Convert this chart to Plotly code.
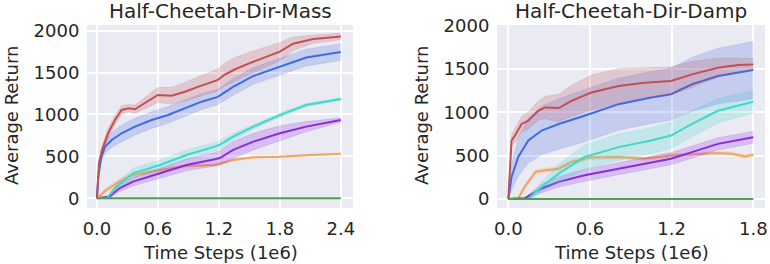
import plotly.graph_objects as go

# ---------------- data: Half-Cheetah-Dir-Mass ----------------
mass_red_x = [0, 0.02, 0.046, 0.08, 0.11, 0.177, 0.243, 0.31, 0.374, 0.44, 0.6, 0.735, 0.866, 1.0, 1.19, 1.25, 1.36, 1.54, 1.8, 1.93, 2.13, 2.4]
mass_red_y = [0, 420, 560, 690, 776, 934, 1054, 1074, 1062, 1113, 1233, 1225, 1272, 1332, 1412, 1470, 1540, 1630, 1750, 1845, 1900, 1932]
mass_red_s = [0, 40, 50, 55, 60, 60, 50, 45, 50, 60, 90, 100, 110, 120, 130, 140, 140, 130, 110, 80, 50, 40]

mass_blue_x = [0, 0.013, 0.04, 0.08, 0.145, 0.243, 0.374, 0.538, 0.7, 0.866, 1.03, 1.19, 1.34, 1.54, 1.8, 2.06, 2.4]
mass_blue_y = [0, 258, 480, 616, 696, 776, 855, 934, 994, 1074, 1153, 1210, 1330, 1460, 1570, 1680, 1745]
mass_blue_s = [0, 40, 60, 80, 90, 100, 100, 100, 100, 100, 95, 90, 100, 100, 100, 100, 100]

mass_cyan_x = [0, 0.1, 0.19, 0.355, 0.62, 0.88, 1.16, 1.21, 1.34, 1.54, 1.8, 2.06, 2.4]
mass_cyan_y = [0, 5, 139, 298, 398, 517, 616, 640, 736, 855, 993, 1113, 1185]
mass_cyan_s = [0, 10, 40, 60, 60, 60, 50, 50, 40, 30, 25, 20, 15]

mass_purple_x = [0, 0.125, 0.22, 0.355, 0.62, 0.88, 1.16, 1.21, 1.34, 1.54, 1.8, 2.06, 2.4]
mass_purple_y = [0, 20, 119, 199, 298, 398, 465, 480, 577, 676, 776, 855, 935]
mass_purple_s = [0, 15, 40, 50, 60, 70, 80, 90, 100, 100, 90, 60, 25]

mass_orange_x = [0, 0.04, 0.09, 0.22, 0.355, 0.62, 0.88, 1.16, 1.34, 1.54, 1.8, 2.06, 2.4]
mass_orange_y = [0, 40, 99, 199, 278, 338, 386, 397, 457, 489, 497, 515, 530]
mass_orange_s = [0, 20, 30, 40, 30, 20, 15, 15, 15, 12, 10, 10, 10]

mass_green_x = [0, 2.4]
mass_green_y = [0, 0]
mass_green_s = [0, 0]

# ---------------- data: Half-Cheetah-Dir-Damp ----------------
damp_red_x = [0, 0.012, 0.024, 0.049, 0.098, 0.147, 0.22, 0.27, 0.37, 0.465, 0.61, 0.81, 1.0, 1.195, 1.35, 1.54, 1.69, 1.8]
damp_red_y = [0, 420, 674, 732, 865, 903, 1017, 1055, 1048, 1131, 1227, 1303, 1341, 1360, 1436, 1513, 1543, 1551]
damp_red_s = [0, 40, 60, 80, 90, 100, 110, 130, 160, 180, 200, 200, 170, 160, 150, 110, 80, 70]

damp_blue_x = [0, 0.024, 0.073, 0.147, 0.245, 0.37, 0.56, 0.81, 1.05, 1.195, 1.35, 1.54, 1.8]
damp_blue_y = [0, 255, 484, 674, 789, 865, 960, 1093, 1170, 1208, 1322, 1417, 1486]
damp_blue_s = [0, 150, 220, 260, 280, 290, 300, 300, 300, 300, 310, 320, 330]

damp_cyan_x = [0, 0.147, 0.245, 0.37, 0.56, 0.81, 1.05, 1.195, 1.35, 1.54, 1.8]
damp_cyan_y = [0, 0, 141, 293, 484, 598, 674, 732, 865, 1017, 1120]
damp_cyan_s = [0, 10, 60, 110, 140, 150, 150, 150, 150, 140, 130]

damp_purple_x = [0, 0.12, 0.245, 0.37, 0.56, 0.81, 1.05, 1.195, 1.35, 1.54, 1.8]
damp_purple_y = [0, 8, 122, 198, 274, 350, 427, 465, 541, 636, 712]
damp_purple_s = [0, 10, 50, 60, 70, 70, 70, 70, 70, 70, 70]

damp_orange_x = [0, 0.073, 0.12, 0.2, 0.27, 0.37, 0.465, 0.61, 0.81, 1.0, 1.195, 1.35, 1.54, 1.64, 1.74, 1.8]
damp_orange_y = [0, 8, 141, 312, 331, 350, 427, 480, 484, 465, 503, 514, 530, 522, 490, 510]
damp_orange_s = [0, 10, 25, 25, 25, 25, 25, 25, 20, 20, 20, 20, 20, 20, 20, 20]

damp_green_x = [0, 1.8]
damp_green_y = [0, 0]
damp_green_s = [0, 0]

x_tick_vals_mass = [0, 0.6, 1.2, 1.8, 2.4]
x_tick_vals_damp = [0, 0.6, 1.2, 1.8]
x_tick_text_mass = ["0.0", "0.6", "1.2", "1.8", "2.4"]
x_tick_text_damp = ["0.0", "0.6", "1.2", "1.8"]
y_tick_vals = [0, 500, 1000, 1500, 2000]
y_tick_text = ["0", "500", "1000", "1500", "2000"]

titles = ["Half-Cheetah-Dir-Mass", "Half-Cheetah-Dir-Damp"]
x_title = "Time Steps (1e6)"
y_title = "Average Return"

# ---------------- styles ----------------
colors = {
    "red": "#C44E52",
    "blue": "#4169E1",
    "cyan": "#40D8C8",
    "purple": "#8A2BE2",
    "orange": "#F4A460",
    "green": "#4E9F50",
}


def rgba(hex_color, a):
    h = hex_color.lstrip("#")
    r, g, b = int(h[0:2], 16), int(h[2:4], 16), int(h[4:6], 16)
    return f"rgba({r},{g},{b},{a})"


fig = go.Figure()


def add_series(x, y, s, color, xa, ya):
    upper = [v + d for v, d in zip(y, s)]
    lower = [v - d for v, d in zip(y, s)]
    fig.add_trace(go.Scatter(x=x, y=upper, mode="lines", line=dict(width=0.6, color=rgba(color, 0.25)),
                             xaxis=xa, yaxis=ya, showlegend=False, hoverinfo="skip"))
    fig.add_trace(go.Scatter(x=x, y=lower, mode="lines", line=dict(width=0.6, color=rgba(color, 0.25)),
                             fill="tonexty", fillcolor=rgba(color, 0.22),
                             xaxis=xa, yaxis=ya, showlegend=False, hoverinfo="skip"))
    fig.add_trace(go.Scatter(x=x, y=y, mode="lines", line=dict(width=2, color=color),
                             xaxis=xa, yaxis=ya, showlegend=False))


mass_series = [
    (mass_orange_x, mass_orange_y, mass_orange_s, colors["orange"]),
    (mass_purple_x, mass_purple_y, mass_purple_s, colors["purple"]),
    (mass_cyan_x, mass_cyan_y, mass_cyan_s, colors["cyan"]),
    (mass_blue_x, mass_blue_y, mass_blue_s, colors["blue"]),
    (mass_red_x, mass_red_y, mass_red_s, colors["red"]),
    (mass_green_x, mass_green_y, mass_green_s, colors["green"]),
]
damp_series = [
    (damp_orange_x, damp_orange_y, damp_orange_s, colors["orange"]),
    (damp_purple_x, damp_purple_y, damp_purple_s, colors["purple"]),
    (damp_cyan_x, damp_cyan_y, damp_cyan_s, colors["cyan"]),
    (damp_blue_x, damp_blue_y, damp_blue_s, colors["blue"]),
    (damp_red_x, damp_red_y, damp_red_s, colors["red"]),
    (damp_green_x, damp_green_y, damp_green_s, colors["green"]),
]
for x, y, s, c in mass_series:
    add_series(x, y, s, c, "x", "y")
for x, y, s, c in damp_series:
    add_series(x, y, s, c, "x2", "y2")

FONT = "DejaVu Sans"
TXT = "#262626"
axis_common = dict(showgrid=True, gridcolor="white", gridwidth=1.5, zeroline=False, showline=False,
                   automargin=False,
                   tickfont=dict(family=FONT, size=18, color=TXT), fixedrange=True)
x_ticks = dict(ticks="outside", ticklen=4, tickcolor="rgba(0,0,0,0)")
y_ticks = dict(ticks="outside", ticklen=3, tickcolor="rgba(0,0,0,0)")

fig.update_layout(
    width=770, height=264,
    margin=dict(l=0, r=0, t=0, b=0, autoexpand=False),
    paper_bgcolor="white",
    plot_bgcolor="#EAEAF2",
    showlegend=False,
    xaxis=dict(domain=[87 / 770, 353 / 770], range=[-0.098, 2.52], tickvals=x_tick_vals_mass,
               ticktext=x_tick_text_mass, anchor="y", **axis_common, **x_ticks),
    yaxis=dict(domain=[56 / 264, 239 / 264], range=[-116, 2068], tickvals=y_tick_vals,
               ticktext=y_tick_text, anchor="x", **axis_common, **y_ticks),
    xaxis2=dict(domain=[497 / 770, 765 / 770], range=[-0.083, 1.886], tickvals=x_tick_vals_damp,
                ticktext=x_tick_text_damp, anchor="y2", **axis_common, **x_ticks),
    yaxis2=dict(domain=[56 / 264, 239 / 264], range=[-103, 2005], tickvals=y_tick_vals,
                ticktext=y_tick_text, anchor="x2", **axis_common, **y_ticks),
)

ann_font = dict(family=FONT, size=18, color=TXT)
title_font = dict(family=FONT, size=20, color=TXT)
annotations = [
    dict(text=titles[0], x=220 / 770, y=1 - 11 / 264, xref="paper", yref="paper", showarrow=False,
         xanchor="center", yanchor="middle", font=title_font),
    dict(text=titles[1], x=631 / 770, y=1 - 11 / 264, xref="paper", yref="paper", showarrow=False,
         xanchor="center", yanchor="middle", font=title_font),
    dict(text=x_title, x=220 / 770, y=1 - 252 / 264, xref="paper", yref="paper", showarrow=False,
         xanchor="center", yanchor="middle", font=ann_font),
    dict(text=x_title, x=631 / 770, y=1 - 252 / 264, xref="paper", yref="paper", showarrow=False,
         xanchor="center", yanchor="middle", font=ann_font),
    dict(text=y_title, x=11 / 770, y=1 - 116 / 264, xref="paper", yref="paper", showarrow=False,
         xanchor="center", yanchor="middle", textangle=-90, font=ann_font),
    dict(text=y_title, x=421 / 770, y=1 - 116 / 264, xref="paper", yref="paper", showarrow=False,
         xanchor="center", yanchor="middle", textangle=-90, font=ann_font),
]
fig.update_layout(annotations=annotations)

fig.write_html("out.html", config={"displayModeBar": False},
               post_script="document.body.style.margin='0px';")
